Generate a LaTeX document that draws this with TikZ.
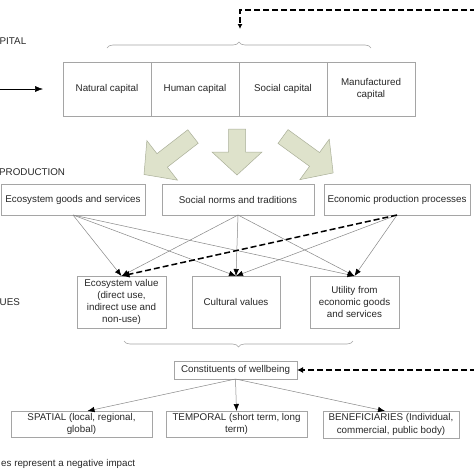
\documentclass[tikz,border=0pt]{standalone}
\usepackage{fontspec}
\setmainfont{Liberation Sans}
\usetikzlibrary{positioning,arrows.meta,decorations.pathreplacing}
\definecolor{boxgray}{RGB}{165,165,165}
\definecolor{linegray}{RGB}{135,135,135}
\definecolor{txt}{RGB}{40,40,40}
\definecolor{olive}{RGB}{222,226,203}
\definecolor{olivedge}{RGB}{170,175,152}

\begin{document}
\begin{tikzpicture}[x=1pt,y=-1pt,
  every node/.style={font=\fontsize{9.8}{12.3}\selectfont,text=txt,inner sep=1pt,align=center},
  box/.style={draw=boxgray,line width=.6pt,outer sep=0pt},
  link/.style={draw=linegray,line width=.5pt,-{Latex[length=7pt,width=5.5pt,color=black]}},
  neg/.style={black,line width=1.5pt,dash pattern=on 6pt off 3pt,-{Latex[length=7pt,width=6pt]}},
  brace/.style={draw=boxgray,line width=.6pt,decorate,decoration={brace,amplitude=6pt}},
  bigarrow/.style={fill=olive,draw=olivedge,line width=.5pt}]
\path[use as bounding box,fill=white] (0,0) rectangle (474,474);

% cut-off row labels
\node[anchor=base west,inner sep=0pt] (lcap) at (-0.5,44.5) {PITAL};
\node[anchor=base west,inner sep=0pt] (lprod) at (-1,175.5) {PRODUCTION};
\node[anchor=base west,inner sep=0pt] (lval) at (-0.5,305.5) {UES};
\node[anchor=base west,inner sep=0pt] (lnote) at (1,466.5) {es represent a negative impact};

% capitals
\node[box,minimum width=88pt,minimum height=54pt] (nat) at (107,89) {Natural capital};
\node[box,minimum width=88pt,minimum height=54pt,right=0pt of nat] (hum) {Human capital};
\node[box,minimum width=88pt,minimum height=54pt,right=0pt of hum] (soc) {Social capital};
\node[box,minimum width=88pt,minimum height=54pt,right=0pt of soc] (man) {Manufactured\\capital};
\draw[brace] (107,48) -- (371,48);

\coordinate (capsrc) at (-2,89);
\coordinate (capin) at (43,89);
\draw[black,line width=.5pt,-{Latex[length=8pt,width=6pt]}] (capsrc) -- (capin);

% feedback loops
\coordinate (loopa) at (476,10);
\coordinate (captop) at (240,29);
\draw[neg,-{Latex[length=5pt,width=5pt]}] (loopa) -| (captop);
\coordinate (loopb) at (476,370);

% block arrows
\foreach \x/\y/\a/\l in {193/136.5/217.8/62, 237/129/270/46, 283/136.5/-36/62}{
\draw[bigarrow,shift={(\x,\y)},rotate=\a] (0,-8.5) -- (\l-23,-8.5) -- (\l-23,-25) -- (\l,0) -- (\l-23,25) -- (\l-23,8.5) -- (0,8.5) -- cycle;}

% production
\node[box,minimum width=144pt,minimum height=31pt] (eco) at (73,199.5) {Ecosystem goods and services};
\node[box,minimum width=152pt,minimum height=31pt] (norm) at (238,199.5) {Social norms and traditions};
\node[box,minimum width=146pt,minimum height=31pt] (econ) at (397,199.5) {Economic production processes};

% values
\node[box,minimum width=89pt,minimum height=52pt] (ecoval) at (121.5,302) {Ecosystem value\\(direct use,\\indirect use and\\non-use)};
\node[box,minimum width=88pt,minimum height=52pt] (cult) at (236,302) {Cultural values};
\node[box,minimum width=89pt,minimum height=52pt] (util) at (354.5,302) {Utility from\\economic goods\\and services};

\foreach \a/\b in {eco/ecoval,eco/cult,eco/util,norm/ecoval,norm/cult,norm/util,econ/cult,econ/util}{
\draw[link] (\a.south) -- (\b.north);}
\draw[neg,-{Latex[length=8pt,width=7pt]}] (econ.south) -- (ecoval.north);

% wellbeing
\draw[brace] (353,341) -- (124,341);
\node[box,minimum width=123pt,minimum height=18pt] (cons) at (235.5,370) {Constituents of wellbeing};
\draw[neg,-{Latex[length=6pt,width=6pt]}] (loopb) -- (cons.east);

\node[box,minimum width=141pt,minimum height=26pt] (spat) at (81.5,424) {SPATIAL (local, regional,\\global)};
\node[box,minimum width=141pt,minimum height=26pt] (temp) at (236.5,424) {TEMPORAL (short term, long\\term)};
\node[box,minimum width=136pt,minimum height=27pt] (benf) at (391,424.5) {BENEFICIARIES (Individual,\\commercial, public body)};

\draw[link] (cons.south) -- ([xshift=6pt]spat.north);
\draw[link] (cons.south) -- (temp.north);
\draw[link] (cons.south) -- ([xshift=-6pt]benf.north);

\end{tikzpicture}
\end{document}
